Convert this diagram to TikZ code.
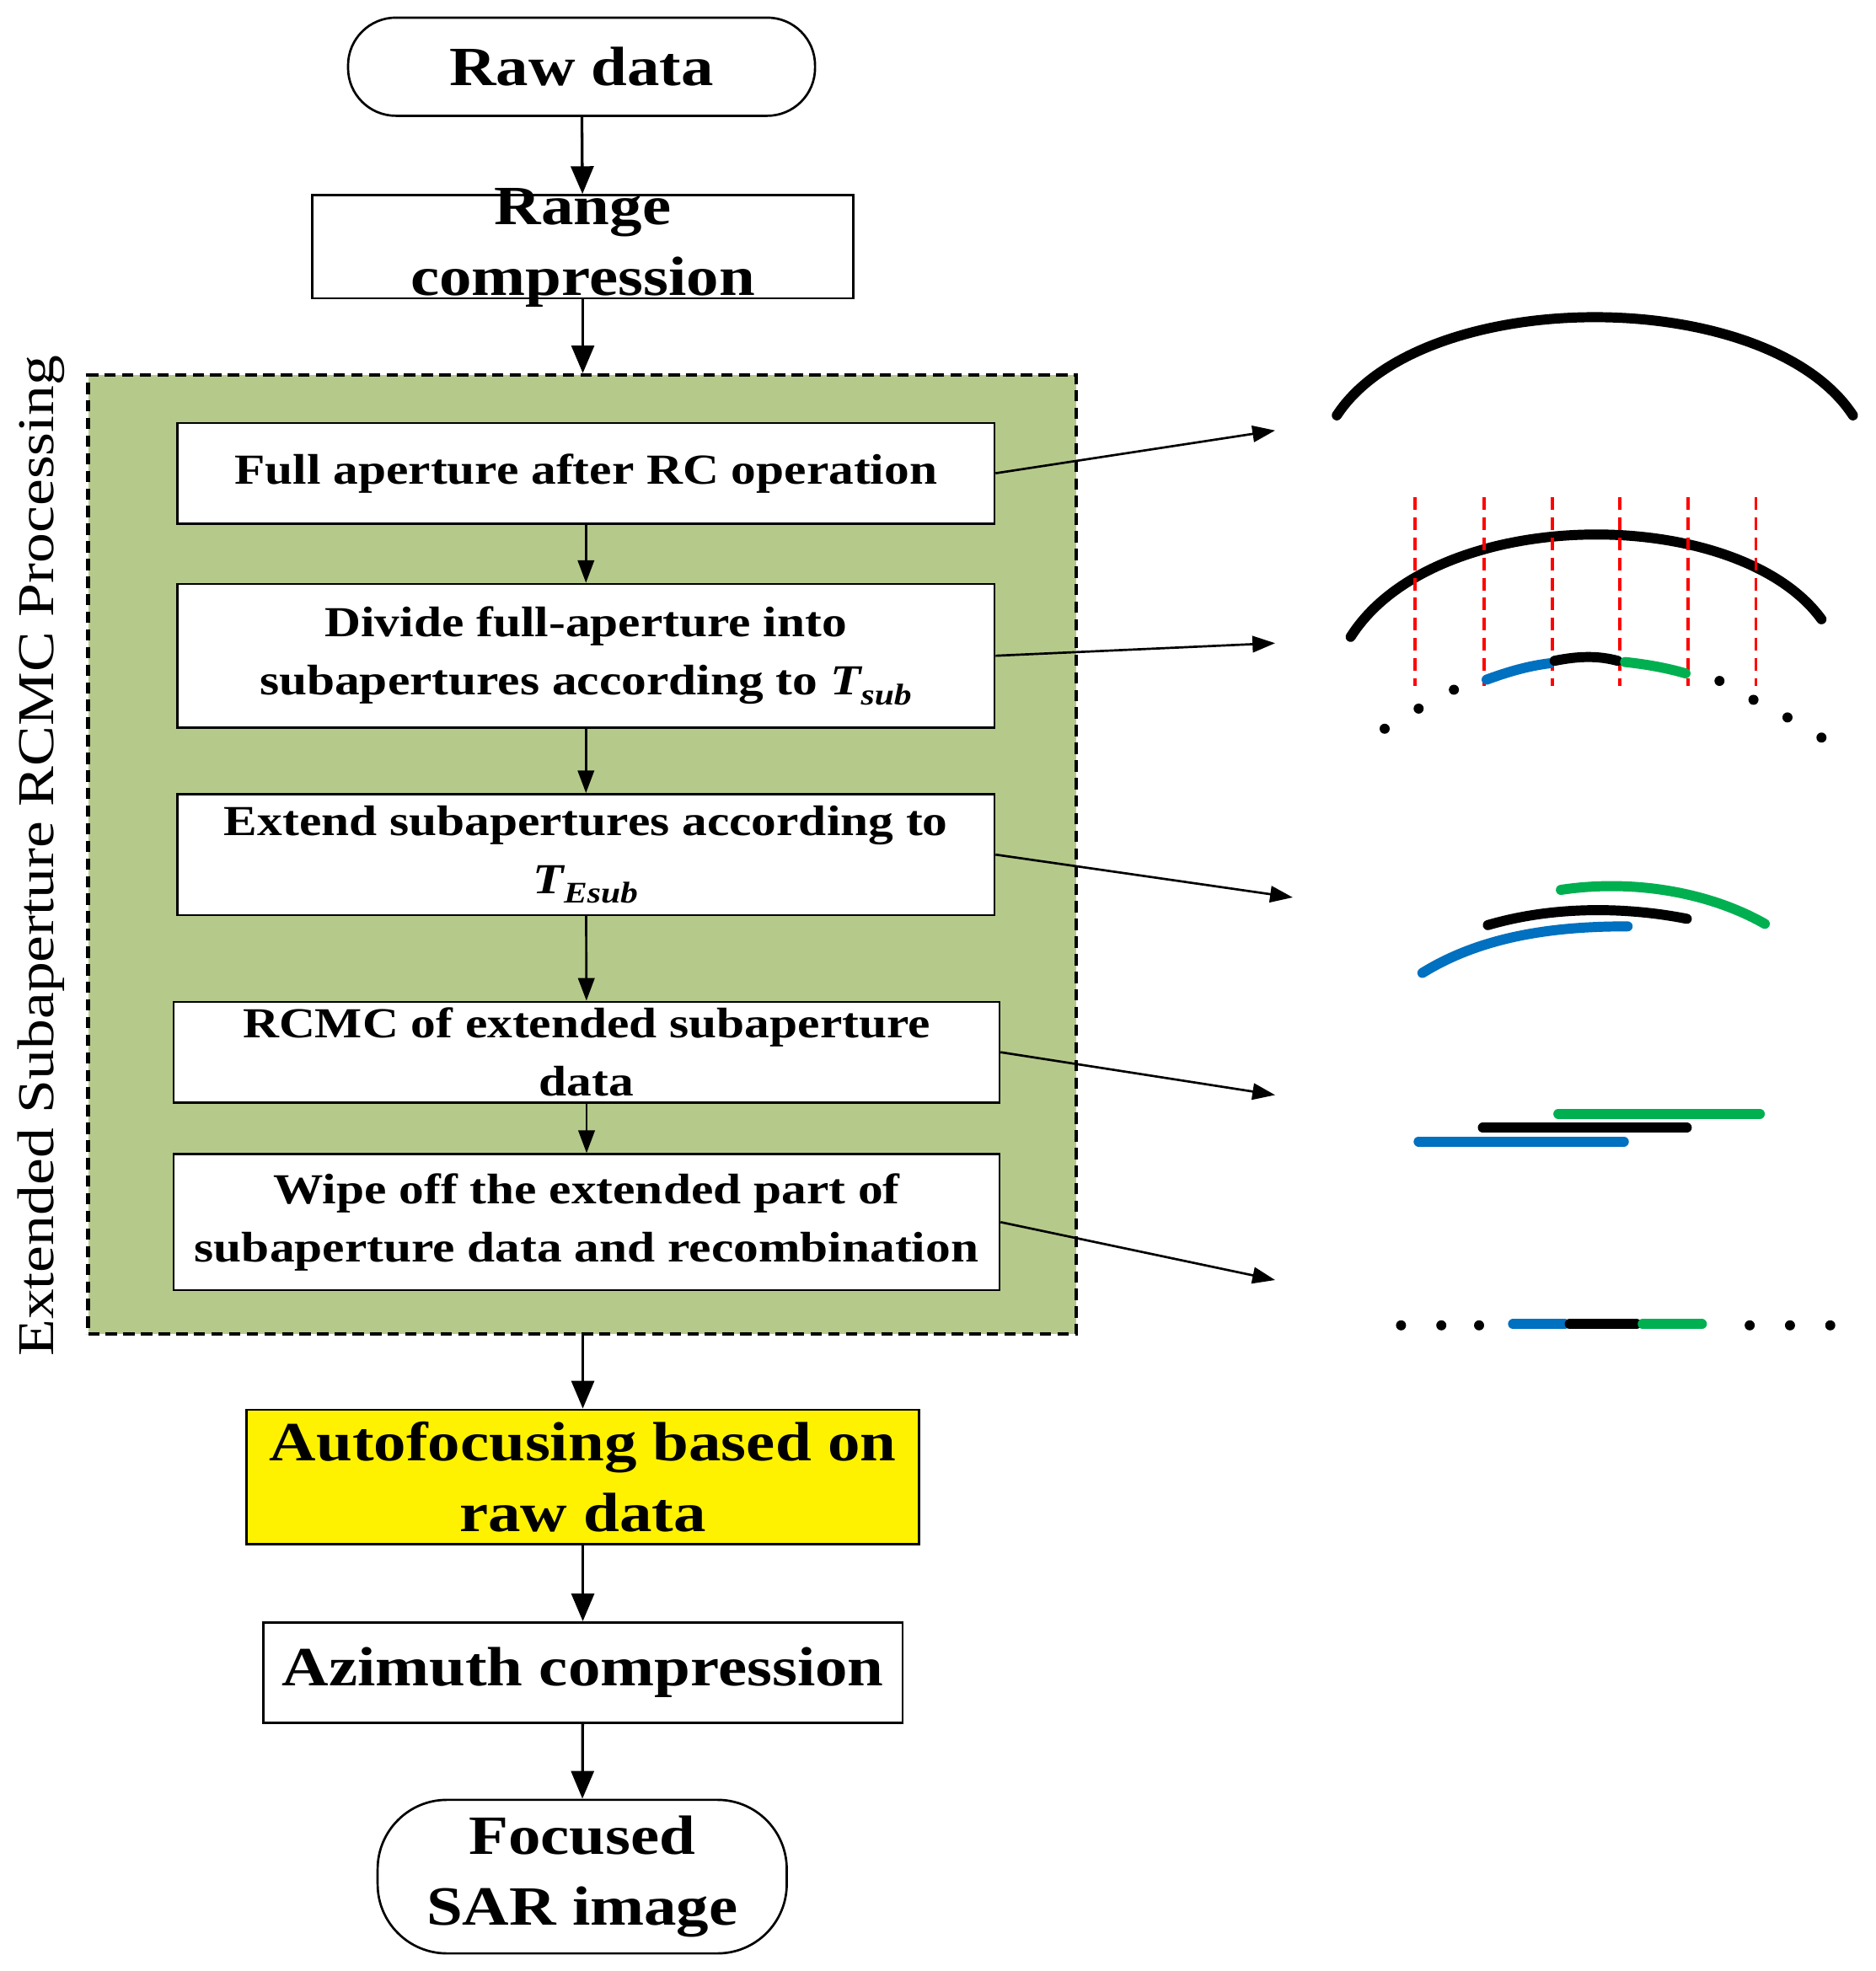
\documentclass[tikz,border=0pt]{standalone}
\usepackage{fontspec}
\setmainfont[FakeStretch=1.17]{Liberation Serif}
\usetikzlibrary{arrows.meta}
\definecolor{grn}{HTML}{B5CA8A}
\definecolor{bl}{HTML}{0070C0}
\definecolor{gr}{HTML}{00B050}
\begin{document}
\begin{tikzpicture}[x=1pt,y=-1pt,
 box/.style={draw,line width=1.8pt,fill=white,inner sep=0pt,font=\fontsize{34}{46}\selectfont\bfseries,align=center},
 big/.style={font=\fontsize{44}{56}\selectfont\bfseries},
 arr/.style={-{Triangle[length=22pt,width=18pt]},line width=2.2pt},
 sarr/.style={-{Triangle[length=18pt,width=13pt]},line width=1.8pt},
 curve/.style={line width=8pt,line cap=round},
 dot/.style={circle,fill=black,inner sep=0pt,minimum size=8pt}]
\useasboundingbox (0,0) rectangle (1490,1566);
\node[box,big,rounded corners=38pt,minimum width=371pt,minimum height=78pt] (raw) at (462,53) {Raw data};
\node[draw,line width=1.8pt,minimum width=430pt,minimum height=82pt,inner sep=0pt] (rc) at (463,196) {};
\node[big,align=center] at (463,197) {Range\\compression};
\node[draw,line width=3pt,dash pattern=on 9pt off 5pt,fill=grn,minimum width=785pt,minimum height=762pt,inner sep=0pt] (grp) at (462.5,679) {};
\node[rotate=90,font=\fontsize{41}{46}\selectfont] (lab) at (33,680) {Extended Subaperture RCMC Processing};
\node[box,minimum width=649pt,minimum height=80pt] (b1) at (465.5,376) {Full aperture after RC operation};
\node[box,minimum width=649pt,minimum height=114pt] (b2) at (465.5,521) {Divide full-aperture into\\subapertures according to \textit{T\textsubscript{sub}}};
\node[box,minimum width=649pt,minimum height=96pt] (b3) at (465.5,679) {Extend subapertures according to\\\textit{T\textsubscript{Esub}}};
\node[box,minimum width=656pt,minimum height=80pt] (b4) at (466,836) {RCMC of extended subaperture\\data};
\node[box,minimum width=656pt,minimum height=108pt] (b5) at (466,971) {Wipe off the extended part of\\subaperture data and recombination};
\node[box,big,fill=yellow,minimum width=534pt,minimum height=107pt] (af) at (463,1173.5) {Autofocusing based on\\raw data};
\node[box,big,minimum width=508pt,minimum height=80pt] (az) at (463,1329) {Azimuth compression};
\node[box,big,rounded corners=55pt,minimum width=325pt,minimum height=122pt] (fo) at (462.5,1491) {Focused\\SAR image};
\draw[arr] (raw) -- (rc);
\draw[arr] (rc.south) -- (grp.north -| rc.south);
\draw[sarr] (b1) -- (b2);
\draw[sarr] (b2) -- (b3);
\draw[sarr] (b3) -- (b4);
\draw[sarr] (b4) -- (b5);
\draw[arr] (grp.south -| af.north) -- (af);
\draw[arr] (af) -- (az);
\draw[arr] (az) -- (fo);
\coordinate (e1) at (1013,342);
\coordinate (e2) at (1013,511);
\coordinate (e3) at (1027,713);
\coordinate (e4) at (1013,870);
\coordinate (e5) at (1013,1017);
\draw[sarr] (b1.east) -- (e1);
\draw[sarr] (b2.east) -- (e2);
\draw[sarr] (b3.east) -- (e3);
\draw[sarr] (b4.east) -- (e4);
\draw[sarr] (b5.east) -- (e5);
% right illustrations
\draw[curve] (1062,330) .. controls (1130,226) and (1404,226) .. (1472,330);
\draw[curve] (1073,506) .. controls (1140,400) and (1380,400) .. (1447,492);
\foreach \x in {1124,1179,1233,1287,1341,1395}
  \draw[red,line width=2.5pt,dash pattern=on 10pt off 6pt] (\x,395) -- (\x,545);
\draw[curve,bl] (1181,540) .. controls (1200,533) and (1215,529) .. (1231,527);
\draw[curve] (1235,525) .. controls (1255,521) and (1270,521) .. (1285,525);
\draw[curve,gr] (1291,526) .. controls (1310,528) and (1325,531) .. (1339,535);
\foreach \p in {(1100,579),(1127,563),(1155,548),(1366,541),(1393,556),(1420,570),(1447,586)}
  \node[dot] at \p {};
\draw[curve,bl] (1130,773) .. controls (1180,742) and (1240,736) .. (1293,736);
\draw[curve] (1182,735) .. controls (1240,718) and (1300,722) .. (1340,730);
\draw[curve,gr] (1240,707) .. controls (1300,698) and (1360,710) .. (1402,734);
\draw[curve,bl] (1127,907) -- (1290,907);
\draw[curve] (1178,896) -- (1340,896);
\draw[curve,gr] (1238,885) -- (1398,885);
\foreach \x in {1113,1145,1175,1390,1422,1454} \node[dot] at (\x,1053) {};
\draw[curve,bl] (1202,1052) -- (1243,1052);
\draw[curve] (1247,1052) -- (1300,1052);
\draw[curve,gr] (1305,1052) -- (1352,1052);
\end{tikzpicture}
\end{document}
